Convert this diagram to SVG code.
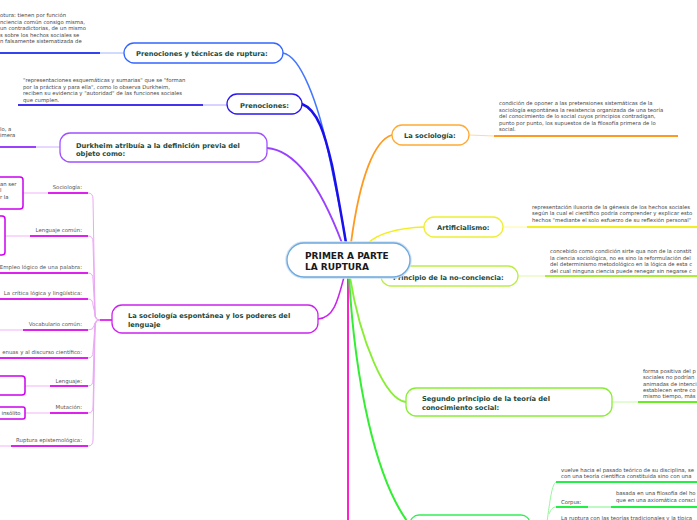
<svg xmlns="http://www.w3.org/2000/svg" width="697" height="520" viewBox="0 0 697 520">
<style>
.lbl{font-family:"DejaVu Sans",Verdana,sans-serif;font-weight:bold;font-size:6.7px;fill:#1d4b3c}
.ctr{font-family:"DejaVu Sans",Verdana,sans-serif;font-weight:bold;font-size:9px;fill:#1a1a1a}
.sm{font-family:"DejaVu Sans",Verdana,sans-serif;font-size:5.3px;fill:#444}
.sub{font-family:"DejaVu Sans",Verdana,sans-serif;font-size:5.4px;fill:#555;text-anchor:end}
.nd{fill:#fff;stroke-width:1.3}
.c{fill:none;stroke-linecap:round}
.mg{stroke:#dd22ee;stroke-width:1.8;fill:none}
.mgl{stroke:#f2b3f7;stroke-width:1;fill:none}
.sp{stroke:#eaa8f5;stroke-width:1;fill:none}
.box{fill:#fff;stroke:#cc00ee;stroke-width:1.5}
</style>
<rect width="697" height="520" fill="#fff"/>
<g id="connectors">
<path class="c" d="M283,53 C300,56 318,100 330,160 C338,200 344,225 346,243" stroke="#4477ff" stroke-width="1.5"/>
<path class="c" d="M302,104 C318,110 325,135 332,165 C338,195 343,225 346,243" stroke="#1a10ee" stroke-width="2.5"/>
<path class="c" d="M267,148 C295,150 320,185 342,243" stroke="#9a40ff" stroke-width="1.8"/>
<path class="c" d="M392,135 C375,140 360,175 351,243" stroke="#ff9a20" stroke-width="1.8"/>
<path class="c" d="M424,227 C400,228 380,232 368,243" stroke="#f2ee22" stroke-width="1.5"/>
<path class="c" d="M344,277 C338,300 334,318 318,319" stroke="#cc22ee" stroke-width="1.5"/>
<path class="c" d="M348,277 L348,522" stroke="#ff22cc" stroke-width="2"/>
<path class="c" d="M350,277 C360,340 385,400 406,402" stroke="#88ee33" stroke-width="1.8"/>
<path class="c" d="M349,277 C355,380 375,480 410,525" stroke="#33ee33" stroke-width="2"/>
<path d="M100,53 L124,53" stroke="#9fb6ff" stroke-width="1"/>
<path d="M0,53 L100,53" stroke="#3344ee" stroke-width="2"/>
<path d="M203,105 L227,105" stroke="#b0a8ff" stroke-width="1"/>
<path d="M18,105 L203,105" stroke="#4433ee" stroke-width="2"/>
<path d="M36,147 L60,147" stroke="#d0b0ff" stroke-width="1"/>
<path d="M0,147 L36,147" stroke="#9a40ff" stroke-width="2"/>
<path d="M469,135 L494,136" stroke="#ffd9a0" stroke-width="1"/>
<path d="M494,136 L678,136" stroke="#ff9a20" stroke-width="2"/>
<path d="M503,227 L527,227" stroke="#fafaa0" stroke-width="1"/>
<path d="M527,227 L697,227" stroke="#f2ee22" stroke-width="2"/>
<path d="M518,276 L545,276" stroke="#ddf7a8" stroke-width="1"/>
<path d="M545,276 L697,276" stroke="#aaee33" stroke-width="2"/>
<path d="M612,402 L638,402" stroke="#c8f7a8" stroke-width="1"/>
<path d="M638,402 L697,402" stroke="#66ee22" stroke-width="2"/>
<path d="M547,522 C550,500 552,484 556,482" stroke="#99f5a0" stroke-width="1" fill="none"/>
<path d="M549,514 C551,509 553,507 556,507" stroke="#99f5a0" stroke-width="1" fill="none"/>
<path d="M556,482 L697,482" stroke="#22ee44" stroke-width="2"/>
<path d="M556,507 L588,507" stroke="#22ee44" stroke-width="2"/>
<path d="M588,507 L611,507" stroke="#a8f7b0" stroke-width="1.5"/>
<path d="M611,507 L697,507" stroke="#22ee44" stroke-width="2"/>
<path class="mg" d="M100,320 L112,320"/>
<path class="sp" d="M88,193 Q93,193 93,199 L95,314 Q95,320 100,320"/>
<path class="sp" d="M88,236 Q93,236 93,242 L95,314 Q95,320 100,320"/>
<path class="sp" d="M88,273 Q93,273 93,279 L95,314 Q95,320 100,320"/>
<path class="sp" d="M88,299 Q93,299 93,305 L95,314 Q95,320 100,320"/>
<path class="sp" d="M88,330 Q93,330 94,326 Q95,320 100,320"/>
<path class="sp" d="M88,358 Q93,358 93,352 L95,326 Q95,320 100,320"/>
<path class="sp" d="M88,386 Q93,386 93,380 L95,326 Q95,320 100,320"/>
<path class="sp" d="M88,413 Q93,413 93,407 L95,326 Q95,320 100,320"/>
<path class="sp" d="M88,446 Q93,446 93,440 L95,326 Q95,320 100,320"/>
<path class="mgl" d="M23,193 L48,193"/><path class="mg" d="M48,193 L88,193"/>
<path class="mgl" d="M5,236 L30,236"/><path class="mg" d="M30,236 L88,236"/>
<path class="mg" d="M0,273 L88,273"/>
<path class="mg" d="M0,299 L88,299"/>
<path class="mgl" d="M0,330 L23,330"/><path class="mg" d="M23,330 L88,330"/>
<path class="mg" d="M0,358 L88,358"/>
<path class="mgl" d="M25,386 L50,386"/><path class="mg" d="M50,386 L88,386"/>
<path class="mgl" d="M25,413 L50,413"/><path class="mg" d="M50,413 L88,413"/>
<path class="mgl" d="M0,446 L11,446"/><path class="mg" d="M11,446 L88,446"/>
</g>
<g id="n-prenociones-tecnicas">
<rect class="nd" x="124" y="43" width="159" height="20" rx="10" stroke="#3366ff"/>
<text class="lbl" x="136" y="56">Prenociones y técnicas de ruptura:</text>
<text class="sm" x="0" y="17">otura:  tienen por función</text>
<text class="sm" x="0" y="23.5">nciencia común consigo misma,</text>
<text class="sm" x="0" y="30">un contradictorias, de un mismo</text>
<text class="sm" x="0" y="36.5">s sobre los hechos sociales se</text>
<text class="sm" x="0" y="43">n falsamente sistematizada de</text>
</g>
<g id="n-prenociones">
<rect class="nd" x="227" y="94" width="75" height="20" rx="10" stroke="#2a18ee"/>
<text class="lbl" x="240" y="108">Prenociones:</text>
<text class="sm" x="23" y="82">"representaciones esquemáticas y sumarias" que se "forman</text>
<text class="sm" x="23" y="88.5">por la práctica y para ella", como lo observa Durkheim,</text>
<text class="sm" x="23" y="95">reciben su evidencia y "autoridad" de las funciones sociales</text>
<text class="sm" x="23" y="101.5">que cumplen.</text>
</g>
<g id="n-durkheim">
<rect class="nd" x="60" y="133" width="207" height="29" rx="10" stroke="#a050ff"/>
<text class="lbl" x="76" y="147.5">Durkheim atribuía a la definición previa del</text>
<text class="lbl" x="76" y="156">objeto como:</text>
<text class="sm" x="0" y="131">lo, a</text>
<text class="sm" x="0" y="137">imera</text>
</g>
<g id="n-sociologia-espontanea">
<rect class="nd" x="112" y="305" width="206" height="28" rx="10" stroke="#cc22ee"/>
<text class="lbl" x="128" y="317.5">La sociología espontánea y los poderes del</text>
<text class="lbl" x="128" y="327">lenguaje</text>
</g>
<g id="sub-sociologia">
<rect class="box" x="-20" y="177" width="43" height="32" rx="3"/>
<text class="sm" x="0" y="186">an ser</text>
<text class="sm" x="0" y="192">l</text>
<text class="sm" x="0" y="198.5">r la</text>
<text class="sub" x="82" y="188.5">Sociología:</text>
</g>
<g id="sub-lenguaje-comun">
<rect class="box" x="-20" y="216" width="25" height="39" rx="3"/>
<text class="sub" x="82" y="232">Lenguaje común:</text>
</g>
<g id="sub-empleo"><text class="sub" x="82" y="269">Empleo lógico de una palabra:</text></g>
<g id="sub-critica"><text class="sub" x="82" y="295">La crítica lógica y lingüística:</text></g>
<g id="sub-vocabulario"><text class="sub" x="82" y="325.5">Vocabulario común:</text></g>
<g id="sub-discurso"><text class="sub" x="82" y="353.5">enuas y al discurso científico:</text></g>
<g id="sub-lenguaje">
<rect class="box" x="-20" y="376" width="45" height="19" rx="3"/>
<text class="sub" x="82" y="382.5">Lenguaje:</text>
</g>
<g id="sub-mutacion">
<rect class="box" x="-20" y="407" width="45" height="12" rx="2"/>
<text class="sm" x="1.5" y="415">insólito</text>
<text class="sub" x="82" y="408.5">Mutación:</text>
</g>
<g id="sub-ruptura"><text class="sub" x="82" y="442">Ruptura epistemológica:</text></g>
<g id="n-la-sociologia">
<rect class="nd" x="392" y="125" width="77" height="20" rx="10" stroke="#ffaa33"/>
<text class="lbl" x="404" y="138">La sociología:</text>
<text class="sm" x="499" y="105">condición de oponer a las pretensiones sistemáticas de la</text>
<text class="sm" x="499" y="111.5">sociología espontánea la resistencia organizada de una teoría</text>
<text class="sm" x="499" y="118">del conocimiento de lo social cuyos principios contradigan,</text>
<text class="sm" x="499" y="124.5">punto por punto, los supuestos de la filosofía primera de lo</text>
<text class="sm" x="499" y="131">social.</text>
</g>
<g id="n-artificialismo">
<rect class="nd" x="424" y="217" width="79" height="20" rx="10" stroke="#eeee33"/>
<text class="lbl" x="437" y="229.5">Artificialismo:</text>
<text class="sm" x="532" y="208.5">representación ilusoria de la génesis de los hechos sociales</text>
<text class="sm" x="532" y="215">según la cual el científico podría comprender y explicar esto</text>
<text class="sm" x="532" y="221.5">hechos "mediante el solo esfuerzo de su reflexión personal"</text>
</g>
<g id="n-no-conciencia">
<rect class="nd" x="381" y="266" width="137" height="20" rx="10" stroke="#bbee44"/>
<text class="lbl" x="393" y="279.5">Principio de la no-conciencia:</text>
<text class="sm" x="550" y="253">concebido como condición sirte qua non de la constit</text>
<text class="sm" x="550" y="259.5">la ciencia sociológica, no es sino la reformulación del</text>
<text class="sm" x="550" y="266">del determinismo metodológico en la lógica de esta c</text>
<text class="sm" x="550" y="272.5">del cual ninguna ciencia puede renegar sin negarse c</text>
</g>
<g id="n-segundo">
<rect class="nd" x="406" y="388" width="206" height="28" rx="10" stroke="#88ee33"/>
<text class="lbl" x="422" y="401">Segundo principio de la teoría del</text>
<text class="lbl" x="422" y="410">conocimiento social:</text>
<text class="sm" x="643" y="372.5">forma positiva del p</text>
<text class="sm" x="643" y="379">sociales no podrían</text>
<text class="sm" x="643" y="385.5">animadas de intenci</text>
<text class="sm" x="643" y="392">establecen entre co</text>
<text class="sm" x="643" y="398">mismo tiempo, más</text>
</g>
<g id="n-bottom">
<rect class="nd" x="410" y="515" width="120" height="24" rx="9" stroke="#33ee55"/>
<text class="sm" x="561" y="472">vuelve hacia el pasado teórico de su disciplina, se</text>
<text class="sm" x="561" y="478">con una teoría científica constituida sino con una</text>
<text class="sm" x="616" y="495">basada en una filosofía del ho</text>
<text class="sm" x="616" y="501.5">que en una axiomática consci</text>
<text class="sm" x="561" y="503.5">Corpus:</text>
<text class="sm" x="561" y="519.5">La ruptura con las teorías tradicionales y la típica</text>
</g>
<g id="n-center">
<rect x="287" y="243" width="123" height="34" rx="17" fill="#fff" stroke="#cfe3f5" stroke-width="3.5"/>
<rect x="287" y="243" width="123" height="34" rx="17" fill="#fff" stroke="#6fa8dc" stroke-width="1.3"/>
<text class="ctr" x="305" y="259">PRIMER A PARTE</text>
<text class="ctr" x="305" y="270">LA RUPTURA</text>
</g>
</svg>
